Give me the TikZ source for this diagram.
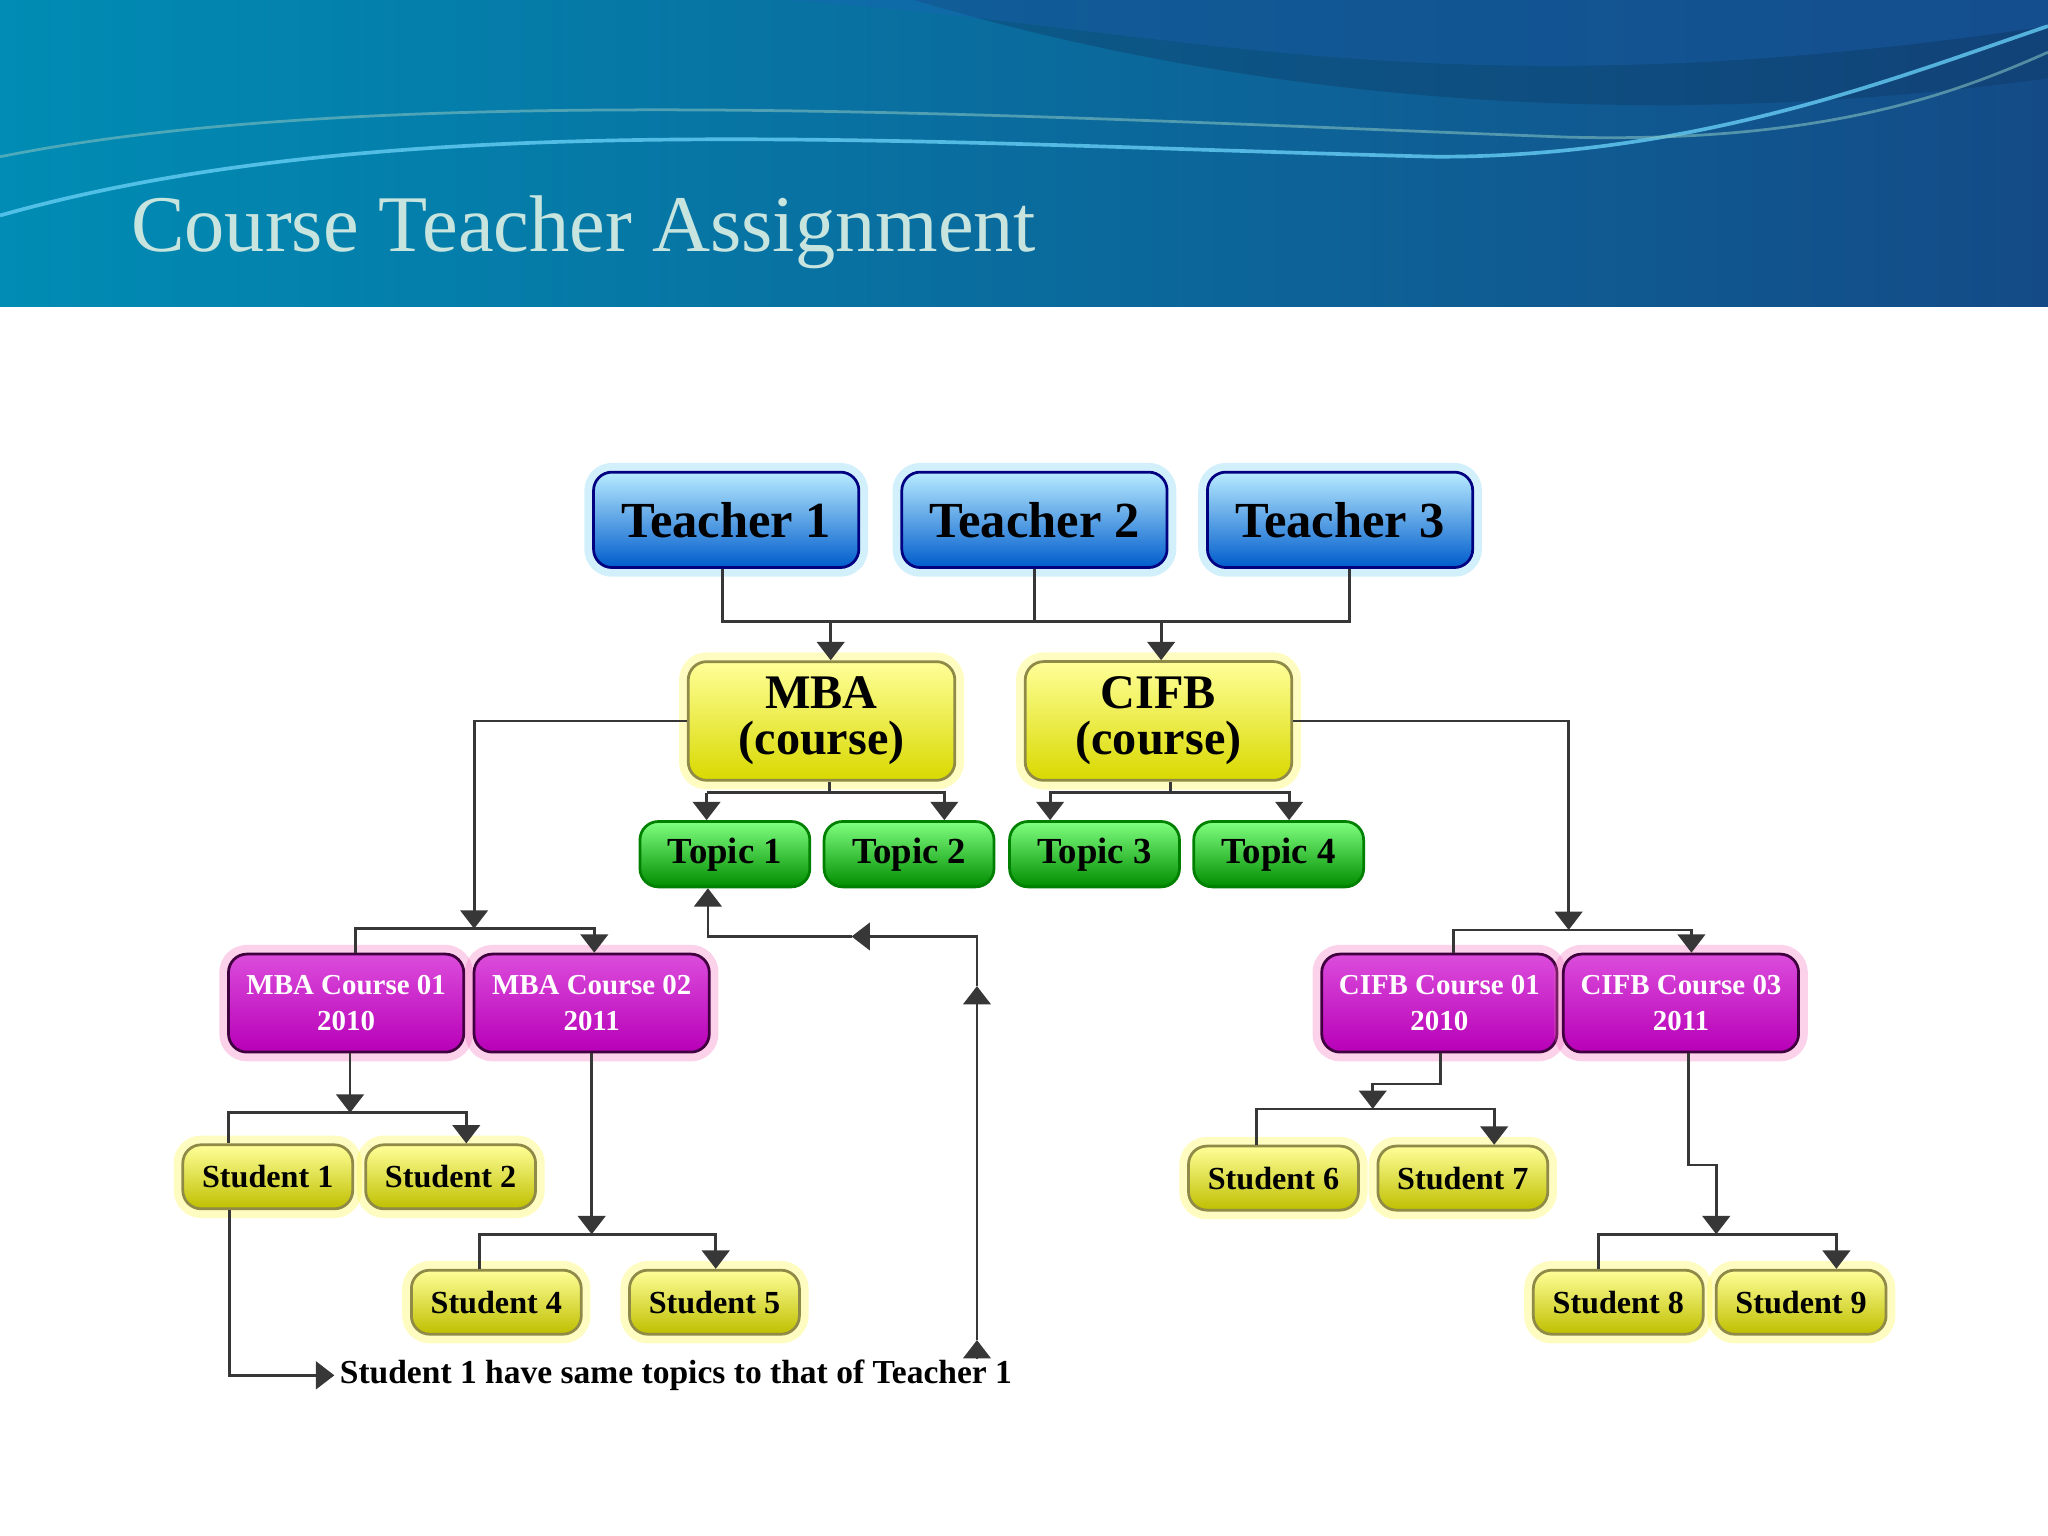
\documentclass[tikz,border=0pt]{standalone}
\usepackage{fontspec}
\setmainfont{Liberation Serif}
\usetikzlibrary{arrows.meta,shadings}
\definecolor{hdA}{RGB}{0,140,180}
\definecolor{hdB}{RGB}{20,75,135}
\definecolor{ttl}{RGB}{200,228,222}
\definecolor{lnc}{RGB}{55,55,55}
\tikzset{
 bx/.style={rounded corners=4pt,draw=#1!50!black,line width=0.6pt,font=\bfseries},
 tbox/.style={bx=blue,top color=blue!10!white!80!cyan,bottom color=blue!55!cyan!80!black,
   preaction={draw=cyan!60,line width=4pt,opacity=0.3},minimum width=2.03cm,minimum height=0.73cm,font=\bfseries\fontsize{11}{12}\selectfont},
 cbox/.style={bx=yellow,top color=yellow!40!white,bottom color=yellow!85!black,
   preaction={draw=yellow!70,line width=4pt,opacity=0.35},minimum width=2.04cm,minimum height=0.75cm,align=center,font=\bfseries\fontsize{10.5}{10}\selectfont},
 gbox/.style={bx=green,top color=green!50!white,bottom color=green!55!black,
   minimum width=1.3cm,minimum height=0.5cm,font=\bfseries\fontsize{8}{9}\selectfont},
 pbox/.style={bx=violet,top color=magenta!60!violet!70!white,bottom color=magenta!60!violet!90!black,
   preaction={draw=magenta!60,line width=4pt,opacity=0.3},text=white,align=center,
   minimum width=1.8cm,minimum height=0.75cm,font=\bfseries\fontsize{6.3}{8}\selectfont},
 sbox/.style={bx=yellow,top color=yellow!40!white,bottom color=yellow!75!black,
   preaction={draw=yellow!70,line width=4pt,opacity=0.35},minimum width=1.3cm,minimum height=0.49cm,font=\bfseries\fontsize{7}{8}\selectfont},
 ln/.style={draw=lnc,line width=0.6pt},
 ar/.style={ln,-{Triangle[width=6pt,length=4pt]}}
}
\begin{document}
\begin{tikzpicture}[x=0.01cm,y=-0.01cm]
\useasboundingbox (0,0) rectangle (1568,1176);
% header
\shade[left color=hdA,right color=hdB] (0,0) rectangle (1568,235);
\fill[hdB!70!black,opacity=0.35] (0,0) -- (700,0) .. controls (900,60) and (1200,110) .. (1568,60) -- (1568,0) -- cycle;
\fill[cyan!40!blue,opacity=0.35] (600,0) .. controls (900,20) and (1100,90) .. (1568,20) -- (1568,0) -- cycle;
\draw[cyan!60,line width=0.8pt,opacity=0.8] (0,165) .. controls (300,80) and (700,110) .. (1100,120) .. controls (1300,120) and (1450,60) .. (1568,20);
\draw[teal!50!white,line width=0.6pt,opacity=0.6] (0,120) .. controls (300,60) and (800,90) .. (1200,105) .. controls (1400,110) and (1500,70) .. (1568,40);
\node[anchor=west,text=ttl,font=\fontsize{17.5}{19}\selectfont] (title) at (88,178) {Course Teacher Assignment};
% nodes
\node[tbox] (t1) at (556,398) {Teacher 1};
\node[tbox] (t2) at (792,398) {Teacher 2};
\node[tbox] (t3) at (1026,398) {Teacher 3};
\node[cbox] (mba) at (629,552) {MBA\\(course)};
\node[cbox] (cifb) at (887,552) {CIFB\\(course)};
\node[gbox] (p1) at (555,654) {Topic 1};
\node[gbox] (p2) at (696,654) {Topic 2};
\node[gbox] (p3) at (838,654) {Topic 3};
\node[gbox] (p4) at (979,654) {Topic 4};
\node[pbox] (m1) at (265,768) {MBA Course 01\\2010};
\node[pbox] (m2) at (453,768) {MBA Course 02\\2011};
\node[pbox] (c1) at (1102,768) {CIFB Course 01\\2010};
\node[pbox] (c3) at (1287,768) {CIFB Course 03\\2011};
\node[sbox] (s1) at (205,901) {Student 1};
\node[sbox] (s2) at (345,901) {Student 2};
\node[sbox] (s4) at (380,997) {Student 4};
\node[sbox] (s5) at (547,997) {Student 5};
\node[sbox] (s6) at (975,902) {Student 6};
\node[sbox] (s7) at (1120,902) {Student 7};
\node[sbox] (s8) at (1239,997) {Student 8};
\node[sbox] (s9) at (1379,997) {Student 9};
\node[anchor=west,font=\bfseries\fontsize{7.3}{9}\selectfont,inner sep=1pt] (note) at (256,1053) {Student 1 have same topics to that of Teacher 1};
% teachers to courses
\draw[ln] (t1.south -| 553,0) -- (553,476) -- (1033,476) -- (t3.south -| 1033,0);
\draw[ln] (t2.south) -- (792,476);
\draw[ar] (636,476) -- (mba.north -| 636,0);
\draw[ar] (889,476) -- (cifb.north -| 889,0);
% courses to topics
\draw[ln] (mba.south -| 635,0) -- (635,607);
\draw[ar] (541,607) -- (p1.north -| 541,0);
\draw[ar] (541,607) -- (723,607) -- (p2.north -| 723,0);
\draw[ln] (cifb.south -| 896,0) -- (896,607);
\draw[ar] (987,607) -- (804,607) -- (p3.north -| 804,0);
\draw[ar] (804,607) -- (987,607) -- (p4.north -| 987,0);
% MBA branch
\draw[ar] (mba.west) -- (363,552) -- (363,711);
\draw[ln] (m1.north -| 272,0) -- (272,711) -- (363,711);
\draw[ar] (363,711) -- (455,711) -- (m2.north -| 455,0);
\draw[ar] (m1.south -| 268,0) -- (268,852);
\draw[ln] (s1.north -| 175,0) -- (175,852) -- (268,852);
\draw[ar] (268,852) -- (357,852) -- (s2.north -| 357,0);
\draw[ar] (m2.south) -- (453,945);
\draw[ln] (s4.north -| 367,0) -- (367,945) -- (453,945);
\draw[ar] (453,945) -- (548,945) -- (s5.north -| 548,0);
% note
\draw[ar] (s1.south -| 176,0) -- (176,1053) -- (note.west);
\draw[ar] (748,1040) -- (748,1026);
\draw[ar] (748,1026) -- (748,755);
\draw[ar] (748,755) -- (748,717) -- (652,717);
\draw[ar] (652,717) -- (542,717) -- (p1.south -| 542,0);
% CIFB branch
\draw[ar] (cifb.east) -- (1201,552) -- (1201,712);
\draw[ln] (c1.north -| 1113,0) -- (1113,712) -- (1201,712);
\draw[ar] (1201,712) -- (1295,712) -- (c3.north -| 1295,0);
\draw[ar] (c1.south -| 1103,0) -- (1103,830) -- (1051,830) -- (1051,849);
\draw[ln] (s6.north -| 962,0) -- (962,849) -- (1051,849);
\draw[ar] (1051,849) -- (1144,849) -- (s7.north -| 1144,0);
\draw[ar] (c3.south -| 1293,0) -- (1293,892) -- (1314,892) -- (1314,945);
\draw[ln] (s8.north -| 1224,0) -- (1224,945) -- (1314,945);
\draw[ar] (1314,945) -- (1406,945) -- (s9.north -| 1406,0);
\end{tikzpicture}
\end{document}
